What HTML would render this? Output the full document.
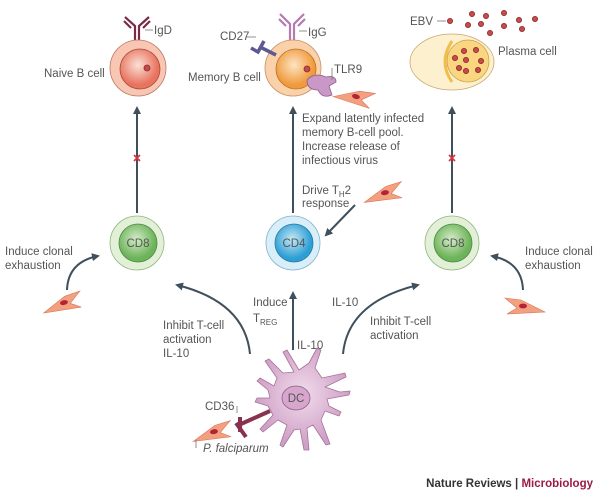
<!DOCTYPE html>
<html><head><meta charset="utf-8"><style>
body{margin:0;background:#fff}
svg{display:block;font-family:"Liberation Sans",sans-serif;fill:#555}
text{font-size:11.5px;fill:#555}
</style></head><body>
<svg width="600" height="494" viewBox="0 0 600 494">
<defs>
<radialGradient id="gR" cx="45%" cy="40%"><stop offset="0" stop-color="#fbe0d6"/><stop offset="1" stop-color="#e8735e"/></radialGradient>
<radialGradient id="gO" cx="45%" cy="40%"><stop offset="0" stop-color="#fde4c4"/><stop offset="1" stop-color="#f09a3c"/></radialGradient>
<radialGradient id="gG" cx="45%" cy="40%"><stop offset="0" stop-color="#d4ecc8"/><stop offset="1" stop-color="#6db35a"/></radialGradient>
<radialGradient id="gB" cx="45%" cy="40%"><stop offset="0" stop-color="#c8e8f6"/><stop offset="1" stop-color="#2d9fd4"/></radialGradient>
<radialGradient id="gD" cx="50%" cy="45%"><stop offset="0" stop-color="#f1dcec"/><stop offset="1" stop-color="#cf9fc6"/></radialGradient>
<marker id="ah" markerWidth="8" markerHeight="8" refX="6" refY="4" orient="auto" markerUnits="userSpaceOnUse"><path d="M0,0 L8,4 L0,8 Z" fill="#3f4f5c"/></marker>
<g id="para"><path d="M-20,6 L4,-6 L20,-8 L8,2 L18,8 Z" fill="#f3a07e" stroke="#d9735a" stroke-width="0.6"/><ellipse cx="2" cy="0" rx="4" ry="2.4" fill="#b4223a"/></g>
</defs>

<g stroke="#3f4f5c" stroke-width="2" fill="none">
<line x1="137" y1="213" x2="137" y2="108" marker-end="url(#ah)"/>
<line x1="293" y1="213" x2="293" y2="108" marker-end="url(#ah)"/>
<line x1="452" y1="213" x2="452" y2="108" marker-end="url(#ah)"/>
<line x1="293" y1="350" x2="293" y2="293" marker-end="url(#ah)"/>
<line x1="355" y1="205" x2="326" y2="235" marker-end="url(#ah)"/>
<path d="M67,290 Q68,262 98,256" marker-end="url(#ah)"/>
<path d="M523,290 Q522,262 492,256" marker-end="url(#ah)"/>
<path d="M250,354 Q245,302 177,285" marker-end="url(#ah)"/>
<path d="M343,354 Q348,302 418,285" marker-end="url(#ah)"/>
</g>
<g stroke="#e0303a" stroke-width="1.6"><path d="M134,155 l6,6 M140,155 l-6,6"/><path d="M449,155 l6,6 M455,155 l-6,6"/></g>

<!-- Naive B cell -->
<g stroke="#7a2a48" stroke-width="2.2" fill="none"><path d="M135,46 V26 L125,17 M139,46 V26 L149,17 M131,28 L124,21 M143,28 L150,21"/></g>
<path d="M153,30 H145" stroke="#777" stroke-width="0.8"/>
<circle cx="138" cy="68" r="28" fill="#f9c6b3" stroke="#b77a66" stroke-width="0.8"/>
<circle cx="140" cy="69" r="20" fill="url(#gR)" stroke="#a04a3c" stroke-width="0.8"/>
<circle cx="147" cy="68" r="3" fill="#c44a4a" stroke="#8a2a2a" stroke-width="0.8"/>
<text x="44" y="77">Naive B cell</text>
<text x="154" y="34" font-size="10">IgD</text>

<!-- Memory B cell -->
<g stroke="#b57ab0" stroke-width="2.2" fill="none"><path d="M290,45 V24 L280,14 M294,45 V24 L304,14 M286,26 L279,19 M298,26 L305,19"/></g>
<path d="M307,31 H299" stroke="#777" stroke-width="0.8"/>
<circle cx="293" cy="68" r="28" fill="#fbd1aa" stroke="#c48f66" stroke-width="0.8"/>
<circle cx="296" cy="69" r="20" fill="url(#gO)" stroke="#b8712d" stroke-width="0.8"/>
<circle cx="307" cy="69" r="3" fill="#c44a4a" stroke="#8a2a2a" stroke-width="0.8"/>
<g stroke="#5d5a92" stroke-width="3.5" fill="none"><path d="M276,55 L262,48 M264,41 L258,52 L251,48"/></g>
<path d="M256,37 H246" stroke="#777" stroke-width="0.8"/>
<path d="M307,80 Q314,72 326,77 Q336,75 336,82 L329,86 L332,95 Q322,99 318,90 Q307,90 307,80Z" fill="#c998c6" stroke="#8c5f8a" stroke-width="0.8"/>
<path d="M332,80 V68" stroke="#777" stroke-width="0.8"/>
<use href="#para" x="354" y="96" transform="rotate(15 354 96)"/>
<text x="188" y="81">Memory B cell</text>
<text x="220" y="40" font-size="10">CD27</text>
<text x="308" y="36" font-size="10">IgG</text>
<text x="334" y="73">TLR9</text>

<!-- Plasma cell -->
<ellipse cx="452" cy="62" rx="42" ry="28" fill="#fdf0cf" stroke="#c9a46a" stroke-width="0.8"/>
<path d="M452,41 Q438,62 452,82" stroke="#f3bd4a" stroke-width="3" fill="none"/>
<circle cx="468" cy="61" r="21" fill="#fbd680" stroke="#c9a04a" stroke-width="0.8"/>
<g fill="#c94a4a" stroke="#8a2a2a" stroke-width="0.8">
<circle cx="464" cy="51" r="2.6"/><circle cx="476" cy="50" r="2.6"/><circle cx="455" cy="58" r="2.6"/><circle cx="466" cy="60" r="2.6"/><circle cx="481" cy="61" r="2.6"/><circle cx="459" cy="68" r="2.6"/><circle cx="466" cy="71" r="2.6"/><circle cx="478" cy="70" r="2.6"/>
<circle cx="450" cy="21" r="2.6"/><circle cx="472" cy="14" r="2.6"/><circle cx="486" cy="16" r="2.6"/><circle cx="468" cy="25" r="2.6"/><circle cx="481" cy="24" r="2.6"/><circle cx="504" cy="13" r="2.6"/><circle cx="504" cy="26" r="2.6"/><circle cx="519" cy="20" r="2.6"/><circle cx="490" cy="33" r="2.6"/><circle cx="522" cy="29" r="2.6"/><circle cx="535" cy="19" r="2.6"/>
</g>
<path d="M437,21 H446" stroke="#777" stroke-width="0.8"/>
<text x="410" y="25">EBV</text>
<text x="498" y="55">Plasma cell</text>

<text x="302" y="122">Expand latently infected</text>
<text x="302" y="136">memory B-cell pool.</text>
<text x="302" y="150">Increase release of</text>
<text x="302" y="164">infectious virus</text>
<text x="302" y="194">Drive T<tspan font-size="8" dy="3">H</tspan><tspan dy="-3">2</tspan></text>
<text x="302" y="207">response</text>
<use href="#para" x="383" y="193" transform="rotate(-10 383 193)"/>

<circle cx="137" cy="243" r="27" fill="#e2f0d8" stroke="#93b57e" stroke-width="0.8"/>
<circle cx="138" cy="243" r="19" fill="url(#gG)" stroke="#4d8a3f" stroke-width="0.8"/>
<text x="138" y="247" text-anchor="middle" font-size="11">CD8</text>
<circle cx="293" cy="243" r="27" fill="#d8eef8" stroke="#82b2cc" stroke-width="0.8"/>
<circle cx="294" cy="243" r="19" fill="url(#gB)" stroke="#2a7aa6" stroke-width="0.8"/>
<text x="294" y="247" text-anchor="middle" font-size="11">CD4</text>
<circle cx="452" cy="243" r="27" fill="#e2f0d8" stroke="#93b57e" stroke-width="0.8"/>
<circle cx="453" cy="243" r="19" fill="url(#gG)" stroke="#4d8a3f" stroke-width="0.8"/>
<text x="453" y="247" text-anchor="middle" font-size="11">CD8</text>

<text x="5" y="255">Induce clonal</text><text x="5" y="269">exhaustion</text>
<text x="525" y="255">Induce clonal</text><text x="525" y="269">exhaustion</text>
<use href="#para" x="62" y="303" transform="rotate(-12 62 303)"/>
<use href="#para" x="525" y="306" transform="scale(-1 1) translate(-1050 0)"/>

<text x="253" y="306">Induce</text><text x="253" y="322">T<tspan font-size="8" dy="3">REG</tspan></text>
<text x="332" y="306">IL-10</text>
<text x="370" y="325">Inhibit T-cell</text><text x="370" y="339">activation</text>
<text x="163" y="329">Inhibit T-cell</text><text x="163" y="343">activation</text><text x="163" y="357">IL-10</text>
<text x="297" y="349">IL-10</text>

<!-- DC -->
<path d="M294,372 L283,352 L287,350 L299,370 L309,363 L317,348 L321,350 L315,368 L322,378 L345,373 L346,377 L325,387 L340,392 L350,391 L349,395 L327,399 L329,406 L341,412 L339,416 L325,411 L321,420 L330,444 L326,445 L313,425 L307,428 L309,450 L304,450 L300,429 L294,430 L283,447 L280,445 L287,425 L278,420 L263,432 L260,429 L273,415 L268,406 L255,402 L257,398 L270,398 L268,390 L257,381 L260,378 L274,386 L277,378 L265,361 L269,359 L283,373 Z" fill="url(#gD)" stroke="#a47398" stroke-width="0.8" stroke-linejoin="round"/>
<ellipse cx="296" cy="398" rx="14" ry="12" fill="#d6a6cc" stroke="#8c5f84" stroke-width="0.8"/>
<text x="296" y="402" text-anchor="middle" font-size="11">DC</text>
<g stroke="#8a3050" stroke-width="4" fill="none"><path d="M270,411 L241,424 M240,417 L240,432 M236,423 L246,437"/></g>
<path d="M237,413 V406" stroke="#777" stroke-width="0.8"/>
<use href="#para" x="212" y="432" transform="rotate(-10 212 432)"/>
<path d="M196,440 V448" stroke="#777" stroke-width="0.8"/>
<text x="205" y="410">CD36</text>
<text x="203" y="452" font-style="italic">P. falciparum</text>

<text x="593" y="487" text-anchor="end" font-size="11.5" font-weight="bold" style="fill:#333">Nature Reviews | <tspan style="fill:#9b1b45">Microbiology</tspan></text>
</svg>
</body></html>
